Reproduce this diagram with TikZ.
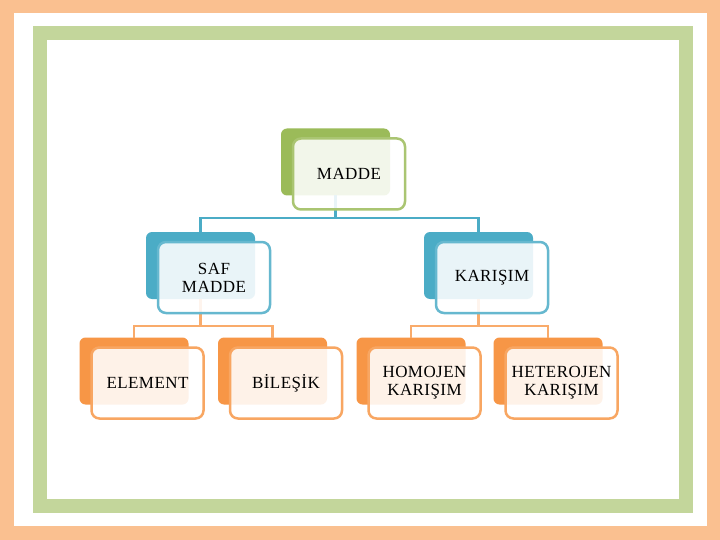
\documentclass[tikz,border=0pt]{standalone}
\usepackage{fontspec}
\setmainfont[LetterSpace=2.5]{Liberation Serif}
\usetikzlibrary{calc}
\definecolor{peach}{HTML}{FAC090}
\definecolor{framegreen}{HTML}{C3D69B}
\definecolor{olive}{HTML}{9BBB59}
\definecolor{aqua}{HTML}{4BACC6}
\definecolor{tangerine}{HTML}{F79646}
\tikzset{
  backbox/.style={fill=#1, rounded corners=6pt, minimum width=109pt, minimum height=67pt, inner sep=0pt, outer sep=0pt},
  frontbox/.style={draw=#1!85, line width=2.5pt, fill=white, fill opacity=0.88, text opacity=1, rounded corners=8pt, minimum width=112pt, minimum height=71pt, inner sep=0pt, align=center, font=\fontsize{17}{18}\selectfont},
  link/.style={draw=#1, line width=2.7pt}
}
\begin{document}
\begin{tikzpicture}[x=1pt,y=1pt,yscale=-1,xscale=1]
\useasboundingbox (0,0) rectangle (720,540);

%Shape: Rectangle [background and frame]
\fill[peach] (0,0) rectangle (720,540);
\fill[white] (14,13) rectangle (707,526);
\draw[framegreen, line width=14pt] (39.5,33.5) rectangle (686,506);

%Shape: Rectangle [back boxes]
\node[backbox=olive] (madde) at (335.5,162) {};
\node[backbox=aqua] (saf) at (200.5,265.5) {};
\node[backbox=aqua] (karisim) at (478.5,265.5) {};
\node[backbox=tangerine] (element) at (134,371) {};
\node[backbox=tangerine] (bilesik) at (272.5,371) {};
\node[backbox=tangerine] (homojen) at (411,371) {};
\node[backbox=tangerine] (heterojen) at (548,371) {};

%Straight Lines [connectors]
\coordinate (mj) at (335.5,218);
\coordinate (sj) at (200.5,326);
\coordinate (kj) at (478.5,326);
\draw[link=aqua] (madde.south) -- (mj);
\draw[link=aqua] (saf.north) |- (mj) -| (karisim.north);
\draw[link=tangerine!80] (saf.south) -- (sj);
\draw[link=tangerine!80] (element.north) |- (sj) -| (bilesik.north);
\draw[link=tangerine!80] (karisim.south) -- (kj);
\draw[link=tangerine!80] (homojen.north) |- (kj) -| (heterojen.north);

% Text Node
\node[frontbox=olive] (madde-f) at ($(madde)+(13.5,12)$) {MADDE};
% Text Node
\node[frontbox=aqua] (saf-f) at ($(saf)+(13.5,12)$) {SAF\\MADDE};
% Text Node
\node[frontbox=aqua] (karisim-f) at ($(karisim)+(13.5,12)$) {KARIŞIM};
% Text Node
\node[frontbox=tangerine] (element-f) at ($(element)+(13.5,12)$) {ELEMENT};
% Text Node
\node[frontbox=tangerine] (bilesik-f) at ($(bilesik)+(13.5,12)$) {BİLEŞİK};
% Text Node
\node[frontbox=tangerine] (homojen-f) at ($(homojen)+(13.5,12)$) {HOMOJEN\\KARIŞIM};
% Text Node
\node[frontbox=tangerine] (heterojen-f) at ($(heterojen)+(13.5,12)$) {HETEROJEN\\KARIŞIM};

\end{tikzpicture}
\end{document}
